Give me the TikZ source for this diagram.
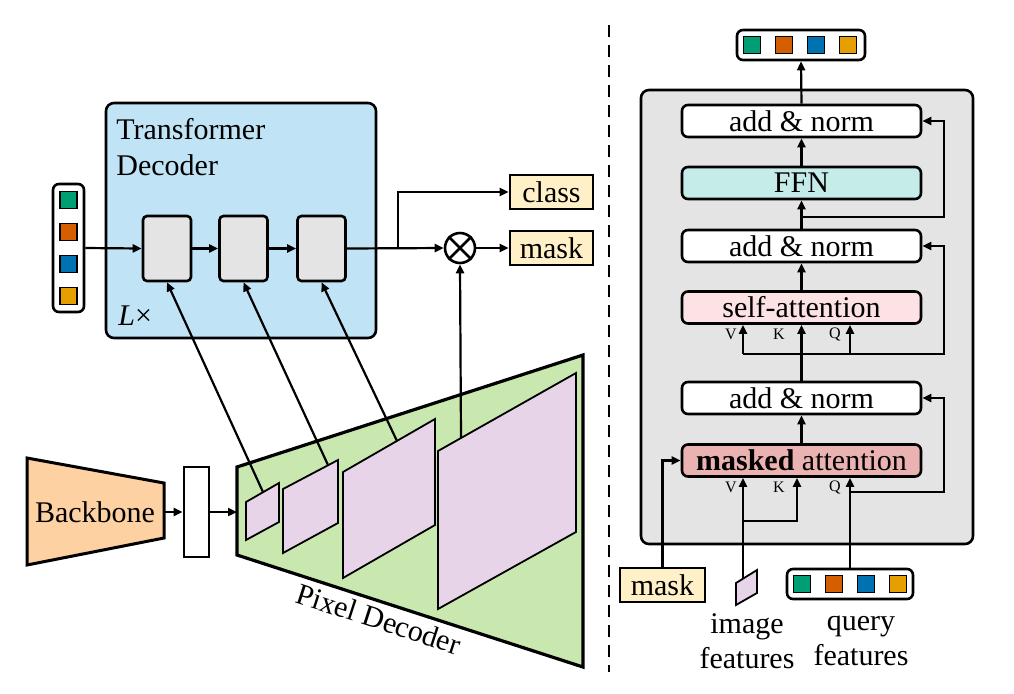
\documentclass[tikz,border=0pt]{standalone}
\usepackage{fontspec}
\setmainfont{Liberation Serif}
\usepackage{tikz}
\usetikzlibrary{positioning, arrows.meta, calc}
\definecolor{tdBlue}{RGB}{192,228,246}
\definecolor{blkGray}{RGB}{228,228,228}
\definecolor{outYellow}{RGB}{255,240,200}
\definecolor{bbOrange}{RGB}{253,209,162}
\definecolor{pdGreen}{RGB}{200,232,175}
\definecolor{fmPink}{RGB}{232,212,232}
\definecolor{ffnTeal}{RGB}{197,236,232}
\definecolor{saPink}{RGB}{252,226,228}
\definecolor{maRed}{RGB}{234,178,176}
\definecolor{qGreen}{RGB}{0,158,115}
\definecolor{qOrange}{RGB}{213,94,0}
\definecolor{qBlue}{RGB}{0,114,178}
\definecolor{qYellow}{RGB}{230,159,0}
\newcommand\figfont{\fontsize{15}{18}\selectfont}

\begin{document}
\begin{tikzpicture}[
  x=0.5pt, y=-0.5pt, font=\figfont,
  arr/.style={-{Triangle[length=4.5pt, width=4pt]}, line width=1.1pt},
  blk/.style={draw, line width=1.3pt, rounded corners=2pt, fill=blkGray,
    minimum width=24pt, minimum height=32.5pt},
  outbox/.style={draw, line width=1.3pt, fill=outYellow, inner sep=0pt,
    minimum width=41.5pt, minimum height=17pt},
  layer/.style={draw, line width=1.3pt, rounded corners=3pt, inner sep=0pt,
    minimum width=119.5pt, minimum height=16pt},
  vecbox/.style={draw, line width=1.3pt, rounded corners=3pt, fill=white},
  sq/.style={draw, line width=0.6pt, inner sep=0pt, minimum size=8.5pt},
  fmap/.style={draw, line width=0.9pt, fill=fmPink},
  vkq/.style={font=\fontsize{8}{9}\selectfont, inner sep=0pt},
]
\useasboundingbox (0,0) rectangle (1014,693);

% left: transformer decoder
\node[draw, line width=1.3pt, rounded corners=4pt, fill=tdBlue,
  minimum width=135pt, minimum height=117.5pt] (tdec) at (241,220.5) {};
\node[anchor=north west, inner sep=0pt, align=left] (tdtitle) at (116,118)
  {Transformer\\Decoder};
\node[anchor=base west, inner sep=0pt] (lx) at (118,325) {\textit{L}×};
\node[blk] (blk1) at (167,248.5) {};
\node[blk] (blk2) at (243.5,248.5) {};
\node[blk] (blk3) at (321.5,248.5) {};

\node[vecbox, minimum width=15.5pt, minimum height=64pt] (qin) at (68.5,248) {};
\node[sq, fill=qGreen] (qin1) at (68.5,200) {};
\node[sq, fill=qOrange] (qin2) at (68.5,232) {};
\node[sq, fill=qBlue] (qin3) at (68.5,264) {};
\node[sq, fill=qYellow] (qin4) at (68.5,296) {};

\node[outbox] (cls) at (551.5,192) {class};
\node[outbox] (msk) at (551.5,248) {mask};
\node[draw, circle, line width=1.3pt, minimum size=15pt, inner sep=0pt] (ot) at (460,248) {};
\draw[line width=1.3pt] (ot.north west) -- (ot.south east);
\draw[line width=1.3pt] (ot.north east) -- (ot.south west);
\coordinate (split) at (398,248);

\draw[arr] (qin.east) -- (blk1.west);
\draw[arr] (blk1.east) -- (blk2.west);
\draw[arr] (blk2.east) -- (blk3.west);
\draw[arr] (blk3.east) -- (ot.west);
\draw[arr] (split) |- (cls.west);
\draw[arr] (ot.east) -- (msk.west);

% left: backbone and pixel decoder
\draw[line width=1.5pt, fill=bbOrange] (27,458) -- (164,483) -- (164,538) -- (27,565) -- cycle;
\node (bb) at (95,512) {Backbone};
\coordinate (bbR) at (164,512);
\node[draw, line width=1.3pt, fill=white, minimum width=12.5pt, minimum height=45pt,
  inner sep=0pt] (neck) at (196.5,512) {};
\coordinate (pdL) at (237,512);
\draw[arr] (bbR) -- (neck.west);
\draw[arr] (neck.east) -- (pdL);

\draw[line width=1.6pt, fill=pdGreen] (237,467) -- (583,355) -- (583,667) -- (237,555) -- cycle;
\node[rotate=-18, inner sep=0pt] (pdtitle) at (379,619) {Pixel Decoder};
\draw[fmap] (246,502) -- (279,483) -- (279,522) -- (246,540) -- cycle;
\draw[fmap] (283,489) -- (338,460) -- (338,523) -- (283,553) -- cycle;
\draw[fmap] (343,472) -- (435,419) -- (435,525) -- (343,578) -- cycle;
\draw[fmap] (438,451) -- (576,373) -- (576,532) -- (438,609) -- cycle;
\coordinate (f1) at (263,492);
\coordinate (f2) at (328,465);
\coordinate (f3) at (397,441);
\coordinate (f4) at (461,438);
\draw[arr] (f1) -- (blk1.south);
\draw[arr] (f2) -- (blk2.south);
\draw[arr] (f3) -- (blk3.south);
\draw[arr] (f4) -- (ot.south);

% separator
\draw[line width=1.3pt, dash pattern=on 6pt off 4pt] (609,25) -- (609,672);

% right: decoder layer
\node[draw, line width=1.3pt, rounded corners=4pt, fill=blkGray,
  minimum width=166pt, minimum height=227pt] (layerbox) at (807,317) {};
\node[layer, fill=white] (an3) at (801.5,121) {add \& norm};
\node[layer, fill=ffnTeal] (ffn) at (801.5,183) {FFN};
\node[layer, fill=white] (an2) at (801.5,246) {add \& norm};
\node[layer, fill=saPink] (sa) at (801.5,307.5) {self-attention};
\node[layer, fill=white] (an1) at (801.5,398) {add \& norm};
\node[layer, fill=maRed] (ma) at (801.5,460.5) {\textbf{masked} attention};

\node[vecbox, minimum width=64pt, minimum height=15pt] (qout) at (801,45) {};
\node[sq, fill=qGreen] (qout1) at (752,45) {};
\node[sq, fill=qOrange] (qout2) at (784,45) {};
\node[sq, fill=qBlue] (qout3) at (816,45) {};
\node[sq, fill=qYellow] (qout4) at (848,45) {};

\draw[arr] (an3.north) -- (qout.south);
\draw[arr] (ffn.north) -- (an3.south);
\draw[arr] (an2.north) -- (ffn.south);
\coordinate (r2) at (801.5,217);
\draw[arr] (r2) -| ([xshift=11pt]an3.east) -- (an3.east);

% self-attention inputs
\draw[arr] (sa.north) -- (an2.south);
\coordinate (sav) at (743,354);
\coordinate (saq) at (850,354);
\draw[arr] (an1.north) -- (sa.south);
\draw[arr] (sav) -- (sav |- sa.south);
\draw[arr] (saq) -- (saq |- sa.south);
\draw[arr] (sav) -| ([xshift=11pt]an2.east) -- (an2.east);
\node[vkq] (lv1) at (731,334) {V};
\node[vkq] (lk1) at (779,334) {K};
\node[vkq] (lq1) at (835,334) {Q};

% masked attention inputs
\draw[arr] (ma.north) -- (an1.south);
\node[outbox, minimum width=42.5pt] (maskin) at (662.5,585) {mask};
\draw[arr] (maskin.north) |- (ma.west);

\draw[line width=0.9pt, fill=fmPink] (736,583) -- (757,570) -- (757,593) -- (736,605) -- cycle;
\coordinate (imf) at (743,578);
\coordinate (mavk) at (743,521);
\coordinate (mak) at (797,521);
\draw[arr] (imf) -- (imf |- ma.south);
\draw[arr] (mavk) -- (mak) -- (mak |- ma.south);

\node[vecbox, minimum width=63pt, minimum height=15pt] (qfeat) at (850,584) {};
\node[sq, fill=qGreen] (qf1) at (802,584) {};
\node[sq, fill=qOrange] (qf2) at (834,584) {};
\node[sq, fill=qBlue] (qf3) at (866,584) {};
\node[sq, fill=qYellow] (qf4) at (898,584) {};
\draw[arr] (qfeat.north) -- (qfeat.north |- ma.south);
\coordinate (maq) at (850,492);
\draw[arr] (maq) -| ([xshift=11pt]an1.east) -- (an1.east);
\node[vkq] (lv2) at (731,487) {V};
\node[vkq] (lk2) at (779,487) {K};
\node[vkq] (lq2) at (835,487) {Q};

\node[align=center, font=\fontsize{15}{17.5}\selectfont] (imtxt) at (747,641) {image\\features};
\node[align=center, font=\fontsize{15}{17.5}\selectfont] (qtxt) at (861,641) {query\\features};
\end{tikzpicture}
\end{document}
